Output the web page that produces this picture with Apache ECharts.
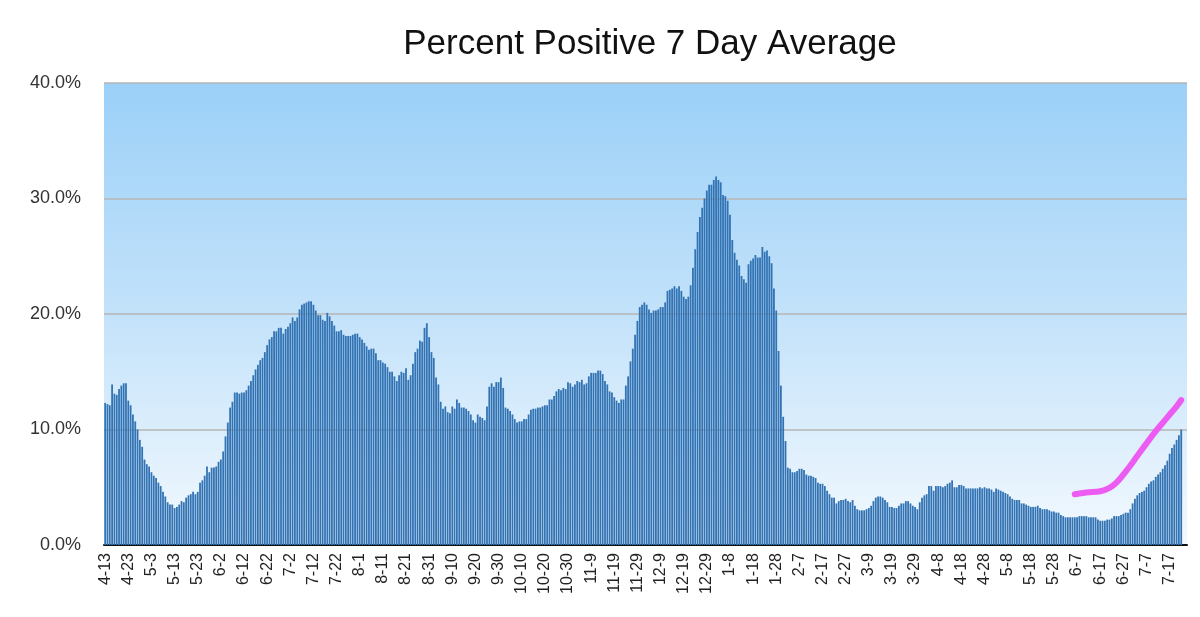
<!DOCTYPE html>
<html>
<head>
<meta charset="utf-8">
<title>Percent Positive 7 Day Average</title>
<script src="https://cdn.jsdelivr.net/npm/echarts/dist/echarts.min.js"></script>
<style>
  html, body { margin: 0; padding: 0; background: #ffffff; }
  #main { width: 1200px; height: 617px; }
</style>
</head>
<body>
<div id="main"></div>
<script>
// first day shown and how many day slots the axis has (last two are empty)
const startDay = [2020, 4, 13];
const dayCount = 468;

// 7 day average percent positive, one value per day from 4-13
const spring2020 = [
  12.3, 12.2, 12.1, 13.9, 13.1, 13.0, 13.5, 13.8, 14.0, 14.0,
  12.5, 12.1, 11.3, 10.7, 10.0, 9.1, 8.5, 7.4, 7.0, 6.8,
  6.3, 6.0, 5.8, 5.4, 5.1, 4.6, 4.2, 3.7, 3.5, 3.5,
  3.2, 3.3, 3.5, 3.8, 3.7, 4.1, 4.3, 4.4, 4.6, 4.4,
  4.6, 5.4, 5.6, 6.0, 6.8, 6.3, 6.7, 6.7, 6.8, 7.2,
  7.4, 8.1, 9.4, 10.6, 11.9, 12.4, 13.2, 13.2, 13.1, 13.2,
  13.2, 13.4, 13.8, 14.2, 14.7, 15.2, 15.6, 16.0, 16.2, 16.7,
  17.3, 17.8, 18.0, 18.5, 18.5, 18.8, 18.8, 18.3
];
const summer2020 = [
  18.7, 18.9, 19.2, 19.7, 19.4, 19.7, 20.4, 20.8, 20.9, 21.0,
  21.1, 21.1, 20.8, 20.3, 19.9, 19.9, 19.5, 19.4, 20.1, 19.8,
  19.4, 19.0, 18.5, 18.5, 18.6, 18.2, 18.1, 18.1, 18.1, 18.2, 18.3,
  18.3, 18.0, 17.8, 17.5, 17.2, 16.9, 17.0, 17.0, 16.6, 16.0,
  16.0, 15.8, 15.7, 15.4, 15.0, 15.0, 14.6, 14.2, 14.7, 15.0,
  14.9, 15.3, 14.3, 14.7, 15.7, 16.7, 17.0, 17.7, 17.6, 18.8,
  19.2, 18.0, 16.7, 16.2, 14.5, 13.9, 12.4, 11.8, 12.0, 11.5,
  11.4, 12.0, 11.8, 12.6, 12.3, 11.9, 11.9, 11.8, 11.6, 11.3
];
const fall2020 = [
  10.8, 10.6, 11.3, 11.1, 11.0, 10.8, 12.0, 13.7, 14.0, 13.7,
  14.1, 14.1, 14.5, 13.6, 11.9, 11.8, 11.6, 11.3, 10.9, 10.6,
  10.7, 10.7, 10.9, 10.9, 11.3, 11.7, 11.8, 11.8, 11.9, 11.9,
  12.0, 12.1, 12.1, 12.6, 12.6, 12.9, 13.3, 13.5, 13.4, 13.6,
  13.5, 14.1, 14.0, 13.7, 13.9, 14.2, 14.1, 14.3, 13.9, 14.0,
  14.6, 14.9, 14.9, 14.9, 15.1, 15.1, 14.8, 14.2, 13.9, 13.3,
  13.2, 12.8, 12.5, 12.3, 12.6, 12.6, 13.8, 14.6, 15.9, 17.0,
  18.2, 19.4, 20.6, 20.8, 21.0, 20.8, 20.4, 20.1, 20.3
];
const winter2021 = [
  20.3, 20.4, 20.6, 20.6, 21.0, 22.0, 22.1, 22.2, 22.4, 22.2,
  22.4, 22.0, 21.5, 21.3, 21.5, 22.5, 24.0, 25.6, 27.1, 28.4,
  29.2, 30.0, 30.7, 31.2, 31.2, 31.6, 31.9, 31.6, 31.4, 30.3,
  30.2, 29.8, 28.6, 26.4, 25.3, 24.7, 24.2, 23.3, 23.0, 22.7,
  24.3, 24.6, 24.8, 25.1, 24.9, 24.9, 25.8, 25.4, 25.5, 25.0,
  24.4, 22.2, 20.3, 16.8, 13.8, 11.1, 9.0, 6.7, 6.6, 6.3,
  6.3, 6.4, 6.6, 6.6, 6.5, 6.1, 6.0, 6.0, 5.9, 5.8,
  5.4, 5.3, 5.3, 5.1, 4.7, 4.4, 4.1, 4.1, 3.6
];
const spring2021 = [
  3.8, 3.9, 3.9, 4.0, 3.8, 3.7, 3.9, 3.4, 3.1, 3.0,
  3.0, 3.0, 3.1, 3.2, 3.4, 3.8, 4.1, 4.2, 4.2, 4.1,
  3.9, 3.7, 3.3, 3.3, 3.2, 3.2, 3.4, 3.6, 3.6, 3.8,
  3.8, 3.6, 3.4, 3.3, 3.1, 3.7, 4.1, 4.3, 4.4, 5.1,
  5.1, 4.7, 5.1, 5.1, 5.1, 5.0, 5.1, 5.3, 5.4, 5.6,
  5.0, 5.0, 5.2, 5.2, 5.1, 4.9, 4.9, 4.9, 4.9, 4.9, 4.9,
  5.0, 4.9, 5.0, 4.9, 4.9, 4.8, 4.6, 4.9, 4.8, 4.7,
  4.6, 4.5, 4.4, 4.2, 4.0, 3.9, 3.9, 3.9, 3.6
];
const summer2021 = [
  3.6, 3.5, 3.4, 3.3, 3.3, 3.3, 3.4, 3.2, 3.1, 3.1,
  3.1, 3.0, 2.9, 2.9, 2.8, 2.8, 2.6, 2.5, 2.4, 2.4,
  2.4, 2.4, 2.4, 2.4, 2.5, 2.5, 2.5, 2.5, 2.4, 2.4, 2.4,
  2.4, 2.2, 2.1, 2.1, 2.1, 2.2, 2.2, 2.3, 2.5, 2.5,
  2.5, 2.6, 2.7, 2.8, 2.8, 3.1, 3.6, 4.0, 4.3, 4.5,
  4.6, 4.7, 5.0, 5.3, 5.5, 5.6, 5.9, 6.1, 6.3, 6.6,
  6.9, 7.3, 7.9, 8.4, 8.7, 9.1, 9.5, 10.0
];

// hand drawn pink trend stroke: day index and percent
const pinkDay = [419, 424, 430, 434, 437, 441, 446, 450, 454, 459, 463, 465];
const pinkPct = [4.4, 4.55, 4.65, 4.95, 5.4, 6.35, 7.7, 8.8, 9.85, 11.05, 12.0, 12.55];

const yTicks = [0, 10, 20, 30, 40];

const values = [].concat(spring2020, summer2020, fall2020, winter2021, spring2021, summer2021);

const days = [];
const t0 = Date.UTC(startDay[0], startDay[1] - 1, startDay[2]);
for (let i = 0; i < dayCount; i++) {
  const d = new Date(t0 + i * 86400000);
  days.push((d.getUTCMonth() + 1) + '-' + d.getUTCDate());
}

const pinkLine = pinkDay.map((d, i) => [d, pinkPct[i]]);

const chart = echarts.init(document.getElementById('main'));

const option = {
  animation: false,
  backgroundColor: '#ffffff',
  title: {
    text: 'Percent Positive 7 Day Average',
    left: 645,
    textAlign: 'center',
    top: 22,
    textStyle: {
      fontFamily: 'Liberation Sans',
      fontSize: 35,
      fontWeight: 'normal',
      color: '#111111'
    }
  },
  grid: {
    left: 104,
    right: 13,
    top: 83,
    bottom: 72,
    show: true,
    borderWidth: 0,
    backgroundColor: new echarts.graphic.LinearGradient(0, 0, 0, 1, [
      { offset: 0, color: '#9bd0f8' },
      { offset: 0.5, color: '#c3e2fa' },
      { offset: 1, color: '#f3f9fe' }
    ])
  },
  xAxis: {
    type: 'category',
    data: days,
    boundaryGap: true,
    axisLine: { lineStyle: { color: '#111111', width: 2 } },
    axisTick: { show: false },
    axisLabel: {
      interval: 9,
      rotate: 90,
      margin: 8,
      fontFamily: 'Liberation Sans',
      fontSize: 16,
      color: '#222222'
    }
  },
  yAxis: {
    type: 'value',
    min: yTicks[0],
    max: yTicks[yTicks.length - 1],
    interval: 10,
    axisLine: { show: false },
    axisTick: { show: false },
    splitLine: { lineStyle: { color: '#b6b6b6', width: 1.5 } },
    axisLabel: {
      margin: 23,
      fontFamily: 'Liberation Sans',
      fontSize: 18,
      color: '#333333',
      formatter: v => v.toFixed(1) + '%'
    }
  },
  series: [
    {
      type: 'bar',
      data: values,
      barCategoryGap: '22%',
      itemStyle: { color: '#3273b4' }
    },
    {
      type: 'line',
      data: pinkLine,
      smooth: 0.4,
      symbol: 'none',
      z: 5,
      lineStyle: { color: '#ec5cf2', width: 6, cap: 'round', join: 'round' }
    }
  ]
};

chart.setOption(option);
</script>
</body>
</html>
